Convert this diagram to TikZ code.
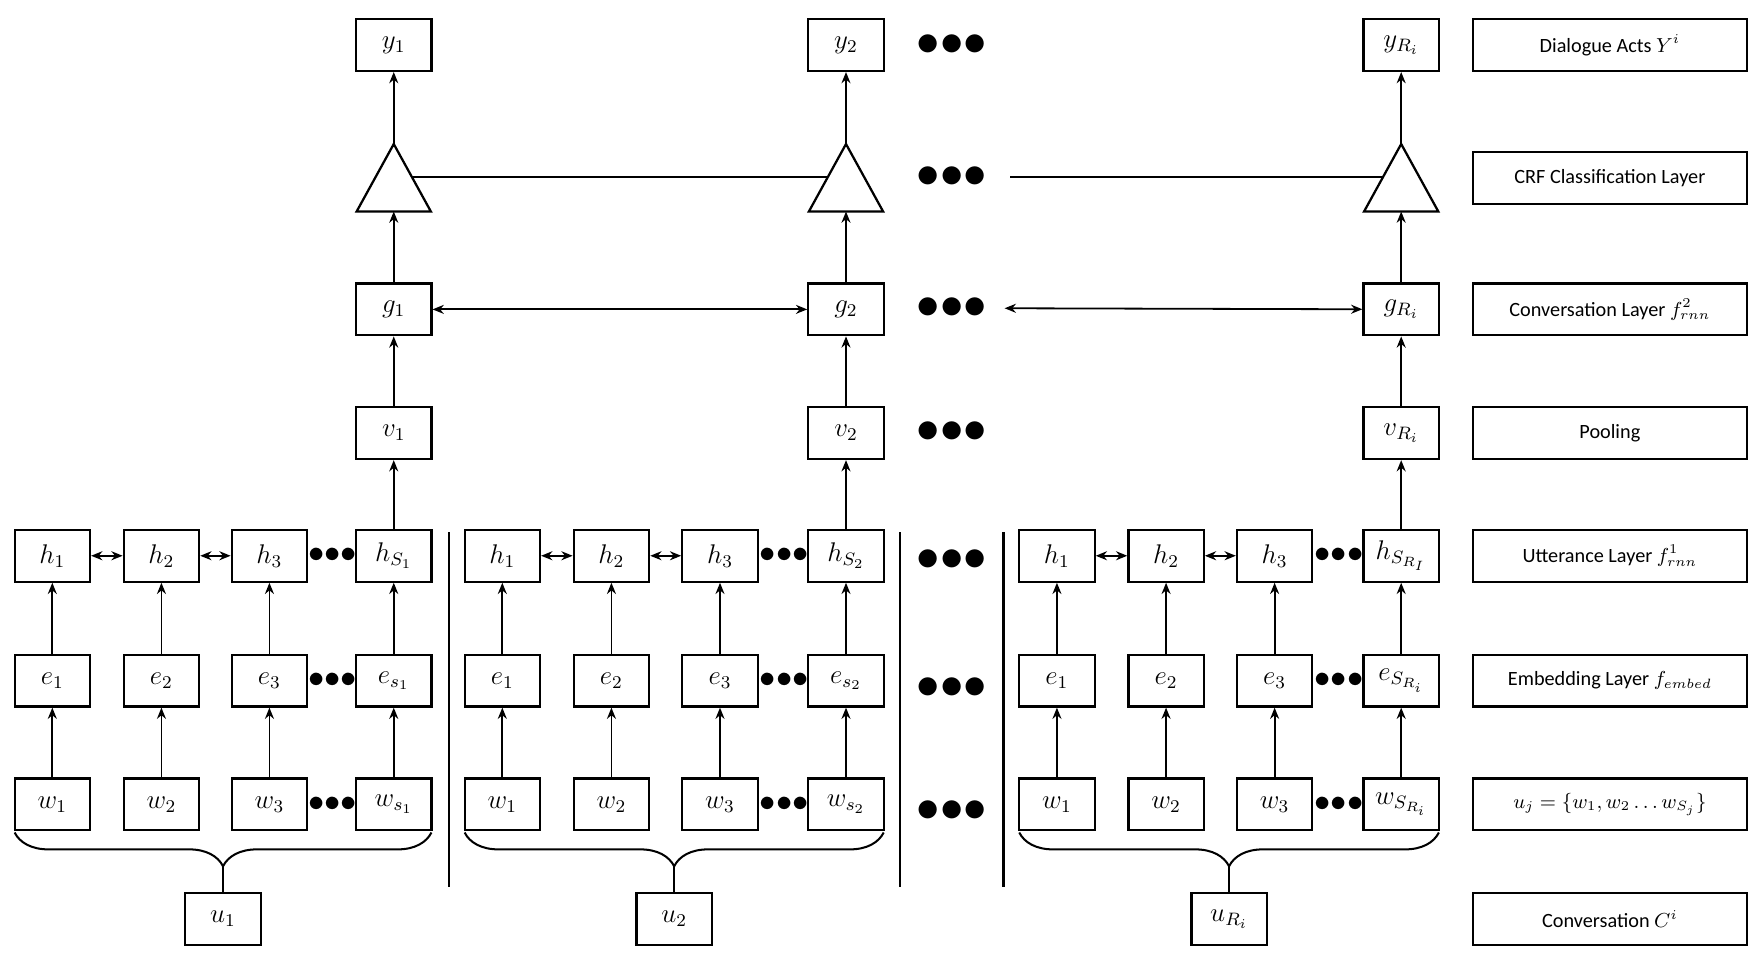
\documentclass[tikz,border=0pt]{standalone}
\usepackage{fontspec}
\setmainfont{Carlito}
\usetikzlibrary{arrows.meta,decorations.pathreplacing}
\begin{document}
\begin{tikzpicture}[x=0.5pt,y=-0.5pt,
  bx/.style={draw,line width=1pt,minimum width=33.5pt,minimum height=23pt,inner sep=0pt,font=\large},
  lb/.style={draw,line width=1pt,minimum width=122pt,minimum height=23pt,inner sep=0pt,font=\small},
  ar/.style={line width=0.8pt,-{Stealth[length=5pt,width=4pt]}},
  da/.style={line width=0.8pt,{Stealth[length=5pt,width=4pt]}-{Stealth[length=5pt,width=4pt]}},
  dots/.style={inner sep=0pt,font=\Large},
  bdots/.style={inner sep=0pt,font=\huge}]
\useasboundingbox (0,0) rectangle (1560,853);
\foreach \g/\xa/\xb/\xc/\xd/\s/\hs/\es in {1/46.5/143.5/239.5/350/1/{S_1}/{s_1},2/446.5/543.5/640/752/2/{S_2}/{s_2},3/939.5/1036.5/1133/1245.5/{R_i}/{S_{R_I}}/{S_{R_i}}}{
  \node[bx] (w\g a) at (\xa,715) {$w_1$};
  \node[bx] (w\g b) at (\xb,715) {$w_2$};
  \node[bx] (w\g c) at (\xc,715) {$w_3$};
  \node[bx] (w\g d) at (\xd,715) {$w_{\es}$};
  \node[bx] (e\g a) at (\xa,605) {$e_1$};
  \node[bx] (e\g b) at (\xb,605) {$e_2$};
  \node[bx] (e\g c) at (\xc,605) {$e_3$};
  \node[bx] (e\g d) at (\xd,605) {$e_{\es}$};
  \node[bx] (h\g a) at (\xa,494) {$h_1$};
  \node[bx] (h\g b) at (\xb,494) {$h_2$};
  \node[bx] (h\g c) at (\xc,494) {$h_3$};
  \node[bx] (h\g d) at (\xd,494) {$h_{\hs}$};
  \foreach \k in {a,b,c,d}{
    \draw[ar] (w\g\k) -- (e\g\k);
    \draw[ar] (e\g\k) -- (h\g\k);}
  \draw[da] (h\g a) -- (h\g b);
  \draw[da] (h\g b) -- (h\g c);
  \foreach \yy/\r in {715/w,605/e,494/h}
    \node[dots] (d\r\g) at ({(\xc+\xd)/2+1},\yy) {$\bullet\mkern-4mu\bullet\mkern-4mu\bullet$};
  \node[bx] (v\g) at (\xd,385) {$v_{\s}$};
  \node[bx] (g\g) at (\xd,275) {$g_{\s}$};
  \node[bx] (y\g) at (\xd,40) {$y_{\s}$};
  \coordinate (tb\g) at (\xd,188);
  \coordinate (ta\g) at (\xd,128);
  \coordinate (tr\g) at (\xd+17,157);
  \coordinate (tl\g) at (\xd-17,157);
  \draw[line width=1pt,line join=miter] (\xd-33,188) -- (ta\g) -- (\xd+33,188) -- cycle;
  \draw[ar] (h\g d) -- (v\g);
  \draw[ar] (v\g) -- (g\g);
  \draw[ar] (g\g) -- (tb\g);
  \draw[ar] (ta\g) -- (y\g);
  \node[bx] (u\g) at ({(\xa+\xd)/2},817) {$u_{\s}$};
  \coordinate (bt\g) at ({(\xa+\xd)/2},770);
  \draw[line width=0.9pt,decorate,decoration={brace,mirror,amplitude=15pt}] (\xa-33.5,740) -- (\xd+33.5,740);
  \draw[line width=0.9pt] (bt\g) -- (u\g);
}
\foreach \y/\n in {40/a,157/b,274/c,384/d,498/e,612/f,721/g}
  \node[bdots] (m\n) at (846,\y) {$\bullet\mkern-4mu\bullet\mkern-4mu\bullet$};
\draw[line width=1pt] (tr1) -- (tl2);
\coordinate (cl) at (898,157);
\draw[line width=1pt] (cl) -- (tl3);
\coordinate (cg) at (893,274);
\draw[da] (g1) -- (g2);
\draw[da] (cg) -- (g3);
\coordinate (s1a) at (399,473); \coordinate (s1b) at (399,788);
\coordinate (s2a) at (800,473); \coordinate (s2b) at (800,788);
\coordinate (s3a) at (892,473); \coordinate (s3b) at (892,788);
\draw[line width=0.9pt] (s1a) -- (s1b);
\draw[line width=0.9pt] (s2a) -- (s2b);
\draw[line width=0.9pt] (s3a) -- (s3b);
\node[lb] (l1) at (1431,40) {Dialogue Acts $Y^i$};
\node[lb] (l2) at (1431,158) {CRF Classification Layer};
\node[lb] (l3) at (1431,275) {Conversation Layer $f^2_{rnn}$};
\node[lb] (l4) at (1431,385) {Pooling};
\node[lb] (l5) at (1431,494) {Utterance Layer $f^1_{rnn}$};
\node[lb] (l6) at (1431,605) {Embedding Layer $f_{embed}$};
\node[lb] (l7) at (1431,715) {$u_j=\{w_1,w_2\ldots w_{S_j}\}$};
\node[lb] (l8) at (1431,817) {Conversation $C^i$};
\end{tikzpicture}
\end{document}
